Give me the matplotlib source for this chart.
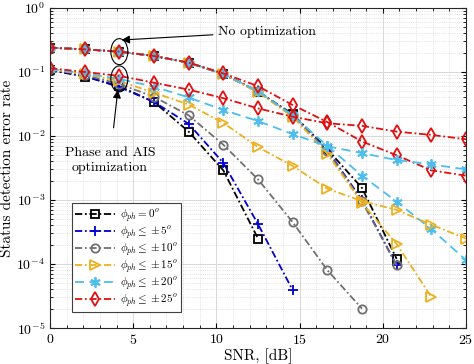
import matplotlib
matplotlib.use("Agg")
import matplotlib.pyplot as plt
import numpy as np
from matplotlib.patches import Ellipse
from matplotlib.transforms import ScaledTranslation
from matplotlib.ticker import MultipleLocator, LogLocator, NullFormatter

plt.rcParams['font.family'] = ['cmr10', 'DejaVu Serif']
plt.rcParams['mathtext.fontset'] = 'cm'
plt.rcParams['axes.unicode_minus'] = False
plt.rcParams['axes.formatter.use_mathtext'] = True

# SNR grid (13 points from 0 to 25 dB)
snr = np.linspace(0, 25, 13)

# phase and AIS optimization (lower group)
opt_0 = [0.107, 0.085, 0.060, 0.034, 0.0117, 0.0029, 0.00025]
opt_5 = [0.107, 0.087, 0.058, 0.034, 0.0155, 0.0038, 0.00042, 3.9e-5]
opt_10 = [0.110, 0.090, 0.065, 0.041, 0.021, 0.0073, 0.0021, 0.00045, 8.0e-5, 2.0e-5]
opt_15 = [0.110, 0.093, 0.072, 0.0475, 0.031, 0.016, 0.0067, 0.0034, 0.0015,
          0.00096, 0.0007, 0.00041, 0.00025]
opt_20 = [0.112, 0.095, 0.078, 0.059, 0.040, 0.0255, 0.0171, 0.0107, 0.0069,
          0.0054, 0.0042, 0.0036, 0.0030]
opt_25 = [0.115, 0.100, 0.087, 0.068, 0.053, 0.039, 0.027, 0.020, 0.0158,
          0.0144, 0.0117, 0.0104, 0.0089]

# no optimization (upper group)
noopt_0 = [0.24, 0.226, 0.208, 0.178, 0.14, 0.093, 0.049, 0.022, 0.0062, 0.00154, 0.00012]
noopt_5 = [0.24, 0.226, 0.208, 0.178, 0.14, 0.093, 0.050, 0.021, 0.0060, 0.0010, 9.5e-5]
noopt_10 = [0.24, 0.226, 0.208, 0.178, 0.14, 0.093, 0.050, 0.021, 0.0058, 0.00095, 9.5e-5]
noopt_15 = [0.24, 0.226, 0.208, 0.178, 0.14, 0.093, 0.048, 0.020, 0.0053, 0.0009,
            0.000205, 3.05e-5]
noopt_20 = [0.24, 0.226, 0.208, 0.178, 0.14, 0.093, 0.050, 0.021, 0.0070, 0.0024,
            0.00094, 0.00035, 0.000115]
noopt_25 = [0.24, 0.226, 0.208, 0.178, 0.14, 0.095, 0.060, 0.0305, 0.0165, 0.0082,
            0.0050, 0.0029, 0.0024]

labels = [r'$\phi_{ph}=0^o$', r'$\phi_{ph}\leq\pm5^o$', r'$\phi_{ph}\leq\pm10^o$',
          r'$\phi_{ph}\leq\pm15^o$', r'$\phi_{ph}\leq\pm20^o$', r'$\phi_{ph}\leq\pm25^o$']
colors = ['black', '#0000d0', '#707070', '#EDB120', '#4DBEEE', '#e01010']
markers = ['s', '+', 'o', '>', (6, 2, 0), 'd']
msizes = [6.2, 7.5, 6, 6.5, 7.5, 7]
styles = [(0, (4, 1.5, 1, 1.5)), (0, (4, 1.5, 1, 1.5)), (0, (4, 1.5, 1, 1.5)),
          (0, (4, 1.5, 1, 1.5)), (0, (5, 3)), (0, (4, 1.5, 1, 1.5))]

opt_curves = [opt_0, opt_5, opt_10, opt_15, opt_20, opt_25]
noopt_curves = [noopt_0, noopt_5, noopt_10, noopt_15, noopt_20, noopt_25]

fig = plt.figure(figsize=(4.74, 3.64), dpi=100)
ax = fig.add_axes([0.1055, 0.099, 0.8776, 0.879])

for curves, with_label in [(noopt_curves, False), (opt_curves, True)]:
    for i, y in enumerate(curves):
        ax.plot(snr[:len(y)], y, linestyle=styles[i], color=colors[i], marker=markers[i],
                markersize=msizes[i], markerfacecolor='none', markeredgewidth=1.3,
                linewidth=1.3, label=labels[i] if with_label else None)

ax.set_yscale('log')
ax.set_xlim(0, 25)
ax.set_ylim(1e-5, 1)
ax.xaxis.set_major_locator(MultipleLocator(5))
ax.xaxis.set_minor_locator(MultipleLocator(1))
ax.yaxis.set_major_locator(LogLocator(base=10, numticks=10))
ax.yaxis.set_minor_locator(LogLocator(base=10, subs=np.arange(2, 10), numticks=20))
ax.yaxis.set_minor_formatter(NullFormatter())
ax.grid(which='major', color='#d8d8d8', linewidth=0.7, linestyle='-')
ax.grid(which='minor', color='#d0d0d0', linewidth=0.5, linestyle=':')
ax.set_axisbelow(True)
ax.tick_params(which='both', direction='in', top=True, right=True, labelsize=10)
ax.tick_params(which='minor', length=2)
for sp in ax.spines.values():
    sp.set_color('#262626')
    sp.set_linewidth(0.8)

ax.set_xlabel('SNR, [dB]', fontsize=11, labelpad=1)
ax.set_ylabel('Status detection error rate', fontsize=11, labelpad=2)

# ellipses around the SNR = 4.17 dB points
for yc in [noopt_25[2], opt_20[2]]:
    tr = fig.dpi_scale_trans + ScaledTranslation(snr[2], yc, ax.transData)
    ax.add_patch(Ellipse((0, 0), 0.17, 0.26, transform=tr, fill=False,
                         edgecolor='black', linewidth=0.8, zorder=5))

ax.annotate('No optimization', xy=(0.172, 0.90), xycoords='axes fraction',
            xytext=(0.405, 0.926), textcoords='axes fraction', fontsize=10,
            ha='left', va='center',
            arrowprops=dict(arrowstyle='-|>', color='black', lw=0.8, mutation_scale=12,
                            shrinkA=2, shrinkB=0))
ax.annotate('Phase and AIS\noptimization', xy=(0.163, 0.744), xycoords='axes fraction',
            xytext=(0.144, 0.523), textcoords='axes fraction', fontsize=10,
            ha='center', va='center', linespacing=1.3,
            arrowprops=dict(arrowstyle='-|>', color='black', lw=0.8, mutation_scale=12,
                            shrinkA=12, shrinkB=0))

leg = ax.legend(loc='lower left', bbox_to_anchor=(0.053, 0.05), fontsize=8,
                handlelength=3.6, labelspacing=0.0, borderpad=0.3, handletextpad=0.4,
                fancybox=False, framealpha=1, edgecolor='#404040', borderaxespad=0)
leg.get_frame().set_linewidth(0.8)

fig.savefig('out.png', dpi=100)
